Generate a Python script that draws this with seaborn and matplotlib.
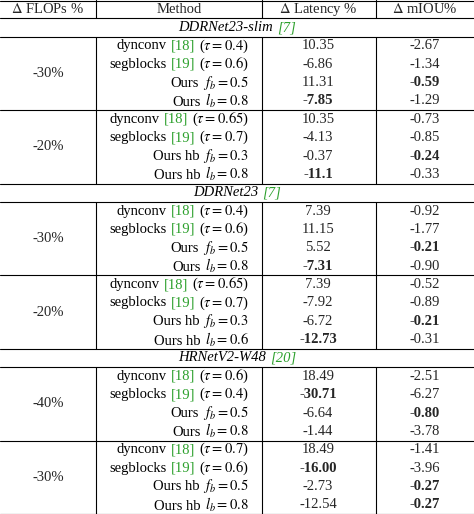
import matplotlib
matplotlib.use("Agg")
import matplotlib.pyplot as plt
import seaborn as sns
from matplotlib.offsetbox import AnnotationBbox, HPacker, TextArea

sns.set_theme(style="white")
plt.rcParams["font.family"] = ["Liberation Serif", "DejaVu Serif"]
plt.rcParams["mathtext.fontset"] = "stix"

GREEN = "#2ca02c"

headers = [r"$\Delta$ FLOPs %", "Method", r"$\Delta$ Latency %", r"$\Delta$ mIOU%"]
sections = [("DDRNet23-slim", "[7]"), ("DDRNet23", "[7]"), ("HRNetV2-W48", "[20]")]
flops = [["-30%", "-20%"], ["-30%", "-20%"], ["-40%", "-30%"]]

# method: (name, citation, param)
methods = [
    [[("dynconv", "[18]", r"($\tau = 0.4$)"), ("segblocks", "[19]", r"($\tau = 0.6$)"),
      ("Ours", None, r"$f_b = 0.5$"), ("Ours", None, r"$l_b = 0.8$")],
     [("dynconv", "[18]", r"($\tau = 0.65$)"), ("segblocks", "[19]", r"($\tau = 0.7$)"),
      ("Ours hb", None, r"$f_b = 0.3$"), ("Ours hb", None, r"$l_b = 0.8$")]],
    [[("dynconv", "[18]", r"($\tau = 0.4$)"), ("segblocks", "[19]", r"($\tau = 0.6$)"),
      ("Ours", None, r"$f_b = 0.5$"), ("Ours", None, r"$l_b = 0.8$")],
     [("dynconv", "[18]", r"($\tau = 0.65$)"), ("segblocks", "[19]", r"($\tau = 0.7$)"),
      ("Ours hb", None, r"$f_b = 0.3$"), ("Ours hb", None, r"$l_b = 0.6$")]],
    [[("dynconv", "[18]", r"($\tau = 0.6$)"), ("segblocks", "[19]", r"($\tau = 0.4$)"),
      ("Ours", None, r"$f_b = 0.5$"), ("Ours", None, r"$l_b = 0.8$")],
     [("dynconv", "[18]", r"($\tau = 0.7$)"), ("segblocks", "[19]", r"($\tau = 0.6$)"),
      ("Ours hb", None, r"$f_b = 0.5$"), ("Ours hb", None, r"$l_b = 0.8$")]],
]
latency = [
    [["10.35", "-6.86", "11.31", "-7.85"], ["10.35", "-4.13", "-0.37", "-11.1"]],
    [["7.39", "11.15", "5.52", "-7.31"], ["7.39", "-7.92", "-6.72", "-12.73"]],
    [["18.49", "-30.71", "-6.64", "-1.44"], ["18.49", "-16.00", "-2.73", "-12.54"]],
]
miou = [
    [["-2.67", "-1.34", "-0.59", "-1.29"], ["-0.73", "-0.85", "-0.24", "-0.33"]],
    [["-0.92", "-1.77", "-0.21", "-0.90"], ["-0.52", "-0.89", "-0.21", "-0.31"]],
    [["-2.51", "-6.27", "-0.80", "-3.78"], ["-1.41", "-3.96", "-0.27", "-0.27"]],
]
bold_latency = [[[3], [3]], [[3], [3]], [[1], [1]]]
bold_miou = [[[2], [2]], [[2], [2]], [[2], [2, 3]]]

W, H = 474, 514
RH = H / 28
FS = 10.5
X_FLOPS, X_METHOD_R, X_LAT, X_MIOU = 48, 249, 318, 425
VX = [96, 262, 376]

fig = plt.figure(figsize=(W / 100, H / 100), dpi=100)
ax = fig.add_axes([0, 0, 1, 1])
ax.set_xlim(0, W)
ax.set_ylim(H, 0)
ax.axis("off")

def hline(y):
    ax.plot([0, W], [y, y], color="black", lw=0.8)

def vlines(y0, y1):
    for x in VX:
        ax.plot([x, x], [y0, y1], color="black", lw=0.8)

def packed(x, y, parts, align, italic=False):
    boxes = []
    for txt, col in parts:
        props = dict(color=col, fontsize=FS, family=["Liberation Serif", "DejaVu Serif"])
        if italic:
            props["fontstyle"] = "italic"
        boxes.append(TextArea(txt, textprops=props))
    pack = HPacker(children=boxes, pad=0, sep=3, align="baseline")
    ab = AnnotationBbox(pack, (x, y), xycoords="data", frameon=False,
                        box_alignment=(align, 0.5), pad=0)
    ax.add_artist(ab)

hline(0.5)
centers = [X_FLOPS, 179, X_LAT, X_MIOU]
for cx, h in zip(centers, headers):
    ax.text(cx, RH / 2, h, ha="center", va="center", fontsize=FS)
vlines(0, RH)
hline(RH)

row = 1
for s, (name, cite) in enumerate(sections):
    packed(W / 2, (row + 0.5) * RH, [(name, "black"), (cite, GREEN)], 0.5, italic=True)
    row += 1
    hline(row * RH)
    for g in range(2):
        top = row * RH
        ax.text(X_FLOPS, top + 2 * RH, flops[s][g], ha="center", va="center", fontsize=FS)
        for i in range(4):
            yc = (row + 0.5) * RH
            mname, mcite, mpar = methods[s][g][i]
            if mcite:
                packed(X_METHOD_R, yc, [(mname, "black"), (mcite, GREEN), (mpar, "black")], 1.0)
            else:
                packed(X_METHOD_R, yc, [(mname, "black"), (mpar, "black")], 1.0)
            ax.text(X_LAT, yc, latency[s][g][i], ha="center", va="center", fontsize=FS,
                    fontweight="bold" if i in bold_latency[s][g] else "normal")
            ax.text(X_MIOU, yc, miou[s][g][i], ha="center", va="center", fontsize=FS,
                    fontweight="bold" if i in bold_miou[s][g] else "normal")
            row += 1
        vlines(top, row * RH)
        hline(row * RH - (0.5 if row == 28 else 0))

fig.savefig("out.png", dpi=100)
